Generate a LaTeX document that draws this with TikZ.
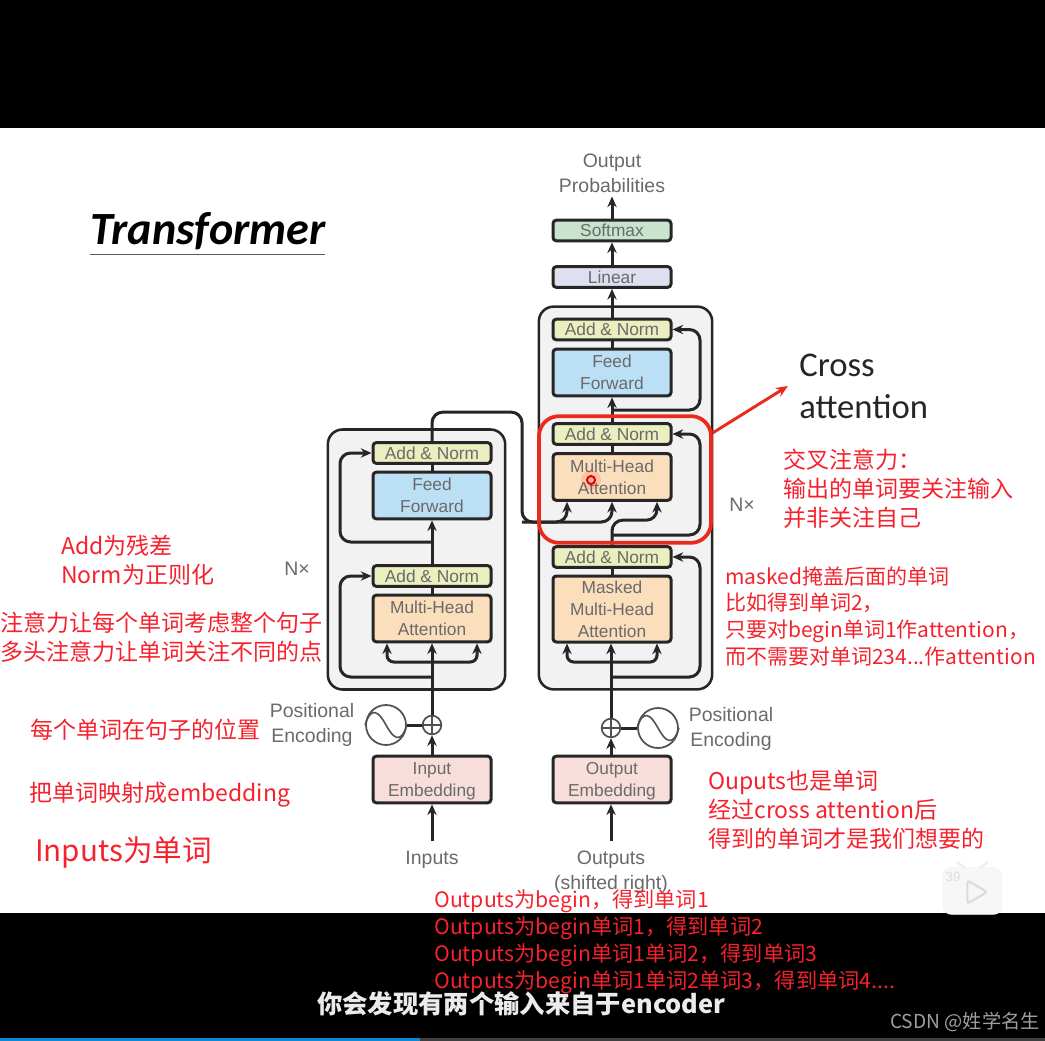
\documentclass[tikz,border=0pt]{standalone}
\usepackage{fontspec}
\usepackage{amsmath, amssymb}
\setmainfont{Liberation Sans}
\newfontfamily\cjk{Noto Sans CJK SC}
\newfontfamily\calib{Carlito}
\usetikzlibrary{arrows.meta, positioning, shapes.geometric, calc}

\definecolor{linecol}{HTML}{262626}
\definecolor{labelcol}{HTML}{6A6A6A}
\definecolor{annored}{HTML}{F5222D}
\definecolor{ringred}{HTML}{EB2A1E}
\definecolor{outerfill}{HTML}{F2F2F2}
\definecolor{addfill}{HTML}{EBEEBE}
\definecolor{ffwdfill}{HTML}{BBE0F5}
\definecolor{attnfill}{HTML}{FBDFBC}
\definecolor{softfill}{HTML}{C8E4CE}
\definecolor{linfill}{HTML}{DEDFF0}
\definecolor{embfill}{HTML}{F8DEDB}

\tikzset{
    layerbox/.style={draw=linecol, line width=2.25pt, rounded corners=2.5pt, minimum width=88.5pt, inner sep=0pt, align=center, text=labelcol, font=\fontsize{13}{16.5}\selectfont},
    addbox/.style={layerbox, fill=addfill, minimum height=15.5pt},
    ffwdbox/.style={layerbox, fill=ffwdfill, minimum height=35pt},
    attnbox/.style={layerbox, fill=attnfill, minimum height=35pt},
    softbox/.style={layerbox, fill=softfill, minimum height=15.5pt},
    linbox/.style={layerbox, fill=linfill, minimum height=15.5pt},
    embbox/.style={layerbox, fill=embfill, minimum height=35pt, text depth=0pt},
    outerbox/.style={draw=linecol, line width=1.9pt, rounded corners=11pt, fill=outerfill, inner sep=0pt},
    graylabel/.style={inner sep=0pt, align=center, text=labelcol, font=\fontsize{14.6}{18.5}\selectfont},
    redtext/.style={inner sep=0pt, anchor=west, align=left, text=annored, font=\cjk\fontsize{17.25}{21.75}\selectfont},
    conn/.style={draw=linecol, line width=2.25pt, -{Stealth[length=8pt, width=7pt]}},
    link/.style={draw=linecol, line width=2.25pt},
    railconn/.style={conn, rounded corners=8pt},
    forkconn/.style={draw=linecol, line width=2.25pt, {Stealth[length=8pt, width=7pt]}-{Stealth[length=8pt, width=7pt]}, rounded corners=5pt},
    plusnode/.style={circle, draw=linecol!80, line width=1.3pt, minimum size=14pt, inner sep=0pt, fill=white},
    sinenode/.style={circle, draw=linecol!80, line width=1.3pt, minimum size=30pt, inner sep=0pt, fill=white}
}

\begin{document}
\begin{tikzpicture}[x=0.75pt, y=-0.75pt]
    \useasboundingbox (0,0) rectangle (1045,1041);

    % Video bands
    \fill[black] (0,0) rectangle (1045,128);
    \fill[black] (0,913) rectangle (1045,1041);
    \fill[black!75] (420,1038) rectangle (1045,1041);
    \fill[cyan!70!blue] (0,1038) rectangle (420,1041);

    % Title
    \node[inner sep=0pt, font=\calib\bfseries\itshape\fontsize{34.6}{38}\selectfont] (title) at (208,231) {Transformer};
    \coordinate (ruleleft) at (90,254.5);
    \coordinate (ruleright) at (325,254.5);
    \draw[black!65, line width=1pt] (ruleleft) -- (ruleright);

    % Outer boxes
    \node[outerbox, minimum width=133pt, minimum height=195pt] (encouter) at (416.5,559.5) {};
    \node[outerbox, minimum width=130pt, minimum height=287pt] (decouter) at (625.5,498) {};

    % Encoder stack
    \node[addbox] (encadda) at (432,453) {Add \& Norm};
    \node[ffwdbox] (encffwd) at (432,495.5) {Feed\\Forward};
    \node[addbox] (encaddb) at (432,576) {Add \& Norm};
    \node[attnbox] (encattn) at (432,618.5) {Multi-Head\\Attention};
    \node[embbox] (inemb) at (432,779.5) {Input\\Embedding};
    \node[plusnode] (encplus) at (432,725) {};
    \node[sinenode] (encsine) at (386,725) {};
    \node[graylabel] (encpos) at (312,725) {Positional\\Encoding};
    \node[graylabel] (inputs) at (432,859.5) {Inputs};
    \node[graylabel] (encnx) at (297,569) {N×};

    % Decoder stack
    \node[graylabel] (outprob) at (612,173) {Output\\Probabilities};
    \node[softbox] (softmax) at (612,230.5) {Softmax};
    \node[linbox] (linear) at (612,277) {Linear};
    \node[addbox] (decadda) at (612,329.5) {Add \& Norm};
    \node[ffwdbox] (decffwd) at (612,372.5) {Feed\\Forward};
    \node[addbox] (decaddb) at (612,434) {Add \& Norm};
    \node[attnbox] (decattn) at (612,477) {Multi-Head\\Attention};
    \node[addbox] (decaddc) at (612,557) {Add \& Norm};
    \node[attnbox, minimum height=49.5pt] (decmask) at (612,609) {Masked\\Multi-Head\\Attention};
    \node[embbox] (outemb) at (612,779.5) {Output\\Embedding};
    \node[plusnode] (decplus) at (611,728) {};
    \node[sinenode] (decsine) at (658,728) {};
    \node[graylabel] (decpos) at (731,729) {Positional\\Encoding};
    \node[graylabel] (outputs) at (611,872) {Outputs\\(shifted right)};
    \node[graylabel] (decnx) at (742,505) {N×};

    % Plus and sine marks
    \foreach \pname in {encplus, decplus} {
        \draw[linecol!80, line width=1.2pt] (\pname.north) -- (\pname.south) (\pname.west) -- (\pname.east);
    }
    \foreach \sname in {encsine, decsine} {
        \draw[linecol!80, line width=1.2pt] (\sname.west) .. controls +(6,-20) and +(-7,-13) .. (\sname.center) .. controls +(7,13) and +(-6,20) .. (\sname.east);
    }

    % Encoder connections
    \draw[conn, shorten <=7pt] (inputs) -- (inemb);
    \draw[conn] (inemb) -- (encplus);
    \draw[conn] (encplus) -- (encattn);
    \draw[link] (encsine) -- (encplus);
    \draw[link] (encattn) -- (encaddb);
    \draw[conn] (encaddb) -- (encffwd);
    \draw[link] (encffwd) -- (encadda);
    \coordinate (encforka) at (432,662);
    \draw[forkconn] ([xshift=-33.75pt]encattn.south) |- (encforka) -| ([xshift=33.75pt]encattn.south);
    \coordinate (encrisea) at (432,677);
    \draw[railconn] (encrisea) -- ++(-92,0) |- (encaddb.west);
    \coordinate (encriseb) at (432,542);
    \draw[railconn] (encriseb) -- ++(-92,0) |- (encadda.west);

    % Link from encoder to decoder
    \coordinate (crossturn) at (522,522);
    \draw[railconn] (encadda.north) -- ++(0,-29) -| (crossturn) -| ([xshift=-33.75pt]decattn.south);
    \draw[railconn] (crossturn) -| (decattn.south);

    % Decoder connections
    \draw[conn, shorten <=7pt] (outputs) -- (outputs |- outemb.south);
    \draw[conn] (outemb.north -| decplus) -- (decplus);
    \draw[conn] (decplus) -- (decplus |- decmask.south);
    \draw[link] (decplus) -- (decsine);
    \draw[link] (decmask) -- (decaddc);
    \coordinate (decforka) at (612,662);
    \draw[forkconn] ([xshift=-33.75pt]decmask.south) |- (decforka) -| ([xshift=33.75pt]decmask.south);
    \coordinate (decrisea) at (612,677);
    \draw[railconn] (decrisea) -- ++(88,0) |- (decaddc.east);
    \draw[railconn] (decaddc.north) -- ++(0,-25) -| ([xshift=33.75pt]decattn.south);
    \coordinate (decriseb) at (612,535);
    \draw[railconn] (decriseb) -- ++(88,0) |- (decaddb.east);
    \draw[link] (decattn) -- (decaddb);
    \draw[conn] (decaddb) -- (decffwd);
    \draw[link] (decffwd) -- (decadda);
    \coordinate (decrisec) at (612,410);
    \draw[railconn] (decrisec) -- ++(88,0) |- (decadda.east);
    \draw[conn] (decadda) -- (linear);
    \draw[conn] (linear) -- (softmax);
    \draw[conn, shorten >=3pt] (softmax) -- (outprob);

    % Cross attention highlight
    \node[draw=ringred, line width=2.8pt, rounded corners=15pt, minimum width=129pt, minimum height=95pt, inner sep=0pt] (crossbox) at (625,479.5) {};
    \coordinate (crosstip) at (788,386);
    \draw[ringred, line width=2.2pt, -{Stealth[length=9pt, width=7.5pt]}] (crossbox.28) -- (crosstip);
    \node[inner sep=0pt, anchor=west, align=left, text=black!85, font=\calib\fontsize{26}{31}\selectfont] (crosstext) at (799,386.5) {Cross\\attention};

    % Cursor mark
    \node[circle, fill=red, opacity=.13, minimum size=15pt, inner sep=0pt] (cursorglow) at (591,480) {};
    \node[circle, draw=red!90!black, line width=1.5pt, minimum size=6pt, inner sep=0pt] (cursorring) at (591,480) {};

    % Annotations
    \node[redtext] (noteadd) at (61,560) {Add为残差\\Norm为正则化};
    \node[redtext] (noteattn) at (0,637.5) {注意力让每个单词考虑整个句子\\多头注意力让单词关注不同的点};
    \node[redtext] (notepos) at (30,730) {每个单词在句子的位置};
    \node[redtext] (noteemb) at (29,795) {把单词映射成embedding};
    \node[redtext, font=\cjk\fontsize{22.2}{26}\selectfont] (noteinputs) at (35,852.5) {Inputs为单词};
    \node[redtext] (notecross) at (783,489) {交叉注意力：\\输出的单词要关注输入\\并非关注自己};
    \node[redtext, font=\cjk\fontsize{15.75}{20}\selectfont] (notemask) at (725,616) {masked掩盖后面的单词\\比如得到单词2，\\只要对begin单词1作attention，\\而不需要对单词234...作attention};
    \node[redtext] (noteout) at (708,809.5) {Ouputs也是单词\\经过cross attention后\\得到的单词才是我们想要的};
    \node[redtext, font=\cjk\fontsize{15.9}{20.25}\selectfont] (noteshift) at (434,942) {Outputs为begin，得到单词1\\Outputs为begin单词1，得到单词2\\Outputs为begin单词1单词2，得到单词3\\Outputs为begin单词1单词2单词3，得到单词4....};

    % Player overlay
    \node[inner sep=0pt, anchor=west, text=white!92!black, font=\cjk\bfseries\fontsize{19}{24}\selectfont] (subtitle) at (317,1004) {你会发现有两个输入来自于encoder};
    \node[inner sep=0pt, anchor=east, text=black!38, font=\cjk\fontsize{14.4}{16}\selectfont] (watermark) at (1040,1022) {CSDN @姓学名生};
    \node[draw=black!5, fill=white!97!black, rounded corners=6pt, minimum width=44pt, minimum height=35pt, inner sep=0pt] (tvicon) at (972.5,891) {};
    \draw[black!6, line width=2pt, line cap=round] (tvicon.north) ++(-8,0) -- ++(-7,-5) (tvicon.north) ++(8,0) -- ++(7,-5);
    \node[inner sep=0pt, text=black!12, font=\fontsize{10}{12}\selectfont] (tvcount) at (953,877) {39};
    \node[regular polygon, regular polygon sides=3, shape border rotate=-90, draw=black!14, line width=1.6pt, rounded corners=2pt, minimum size=20pt, inner sep=0pt] (tvplay) at (974,892) {};
\end{tikzpicture}
\end{document}
